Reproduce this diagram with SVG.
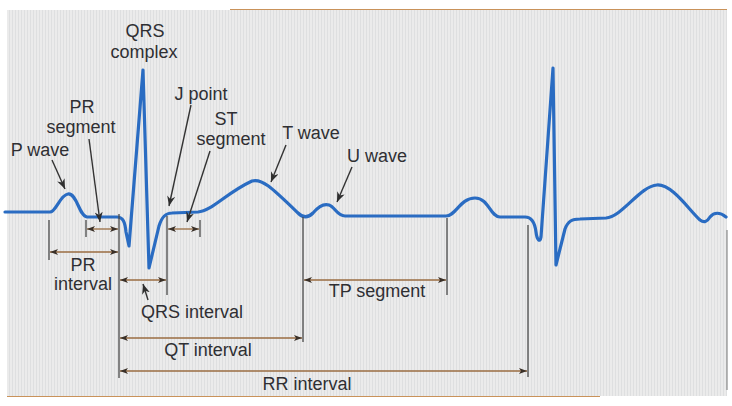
<svg xmlns="http://www.w3.org/2000/svg" width="732" height="406" viewBox="0 0 732 406">
  <defs>
    <pattern id="paper" width="3" height="4" patternUnits="userSpaceOnUse">
      <rect width="3" height="4" fill="#ebebeb"/>
      <rect width="1" height="4" fill="#dedfe0"/>
    </pattern>
    <marker id="bh" markerUnits="userSpaceOnUse" markerWidth="9" markerHeight="7" refX="8" refY="3" orient="auto-start-reverse">
      <path d="M0,0 L8,3 L0,6 L2,3 z" fill="#3a3028"/>
    </marker>
    <marker id="pa" markerUnits="userSpaceOnUse" markerWidth="11" markerHeight="9" refX="10" refY="4" orient="auto">
      <path d="M0,0 L10,4 L0,8 L3,4 z" fill="#2e2e2e"/>
    </marker>
    <style>
      text { font-family: "Liberation Sans", Arial, sans-serif; font-size: 18px; fill: #2f2f33; text-anchor: middle; }
      .trace { fill: none; stroke: #2a6cc2; stroke-width: 3.2; stroke-linejoin: round; stroke-linecap: round; }
      .tick { stroke: #4a4a4a; stroke-width: 1.3; fill: none; }
      .span { stroke: #9a6c42; stroke-width: 1.3; fill: none; marker-start: url(#bh); marker-end: url(#bh); }
      .ptr { stroke: #333; stroke-width: 1.4; fill: none; marker-end: url(#pa); }
    </style>
  </defs>

  <rect width="732" height="406" fill="#ffffff"/>
  <rect x="7" y="10" width="720" height="386" fill="url(#paper)"/>
  <line x1="230" y1="9.5" x2="727" y2="9.5" stroke="#c9925a" stroke-width="1"/>
  <line x1="7" y1="396.5" x2="600" y2="396.5" stroke="#c9925a" stroke-width="1"/>
  <line x1="727" y1="230" x2="727" y2="390" stroke="#777" stroke-width="1"/>

  <g id="ecg-trace">
    <path class="trace" d="M5 212 L50 212 C56 212 60 195 68 194 C77 193 79 216 87 217 L117 217 C123 217 125 222 126 232 L129 246 L143 70 L149 268 L159 226 C162 216 166 213 172 213 L198 212 C212 211 226 193 252 181 C262 178 272 188 298 213 C303 218 308 218 313 213 C318 207 323 203 329 205 C335 207 337 216 345 216 L446 216 C456 216 460 198 475 198 C489 198 490 217 500 217 L525 217 C532 217 535 224 536 232 C537 240 540 243 541 237 L553 68 L556 265 L565 229 C568 221 572 219 580 219 L606 218 C622 217 640 186 657 185 C672 184 689 210 700 220 C704 223 707 222 710 217 C714 212 720 212 726 217"/>
  </g>

  <g id="connectors">
    <line class="tick" x1="49" y1="220" x2="49" y2="260"/>
    <line class="tick" x1="86" y1="220" x2="86" y2="237"/>
    <line class="tick" x1="119" y1="214" x2="119" y2="378"/>
    <line class="tick" x1="167" y1="216" x2="167" y2="295"/>
    <line class="tick" x1="200" y1="220" x2="200" y2="237"/>
    <line class="tick" x1="303" y1="217" x2="303" y2="342"/>
    <line class="tick" x1="447" y1="218" x2="447" y2="295"/>
    <line class="tick" x1="528" y1="225" x2="528" y2="377"/>
    <line class="span" x1="87" y1="229" x2="118" y2="229"/>
    <line class="span" x1="50" y1="252" x2="118" y2="252"/>
    <line class="span" x1="168" y1="229" x2="199" y2="229"/>
    <line class="span" x1="120" y1="280" x2="166" y2="280"/>
    <line class="span" x1="304" y1="280" x2="446" y2="280"/>
    <line class="span" x1="120" y1="338" x2="302" y2="338"/>
    <line class="span" x1="120" y1="371" x2="527" y2="371"/>
    <line class="ptr" x1="52" y1="160" x2="65" y2="189"/>
    <line class="ptr" x1="89" y1="139" x2="100" y2="222"/>
    <line class="ptr" x1="191" y1="105" x2="169" y2="206"/>
    <line class="ptr" x1="210" y1="151" x2="187" y2="222"/>
    <line class="ptr" x1="286" y1="145" x2="271" y2="182"/>
    <line class="ptr" x1="352" y1="167" x2="337" y2="202"/>
    <line class="ptr" x1="148" y1="300" x2="143" y2="284"/>
  </g>

  <g id="label-qrs-complex"><text x="145" y="37">QRS</text><text x="144" y="58">complex</text></g>
  <g id="label-p-wave"><text x="40" y="156">P wave</text></g>
  <g id="label-pr-segment"><text x="82" y="113">PR</text><text x="81" y="133">segment</text></g>
  <g id="label-j-point"><text x="201" y="100">J point</text></g>
  <g id="label-st-segment"><text x="226" y="125">ST</text><text x="231" y="145">segment</text></g>
  <g id="label-t-wave"><text x="311" y="139">T wave</text></g>
  <g id="label-u-wave"><text x="377" y="162">U wave</text></g>
  <g id="label-pr-interval"><text x="83" y="271">PR</text><text x="83" y="290">interval</text></g>
  <g id="label-qrs-interval"><text x="192" y="318">QRS interval</text></g>
  <g id="label-tp-segment"><text x="377" y="297">TP segment</text></g>
  <g id="label-qt-interval"><text x="208" y="356">QT interval</text></g>
  <g id="label-rr-interval"><text x="307" y="390">RR interval</text></g>
</svg>
